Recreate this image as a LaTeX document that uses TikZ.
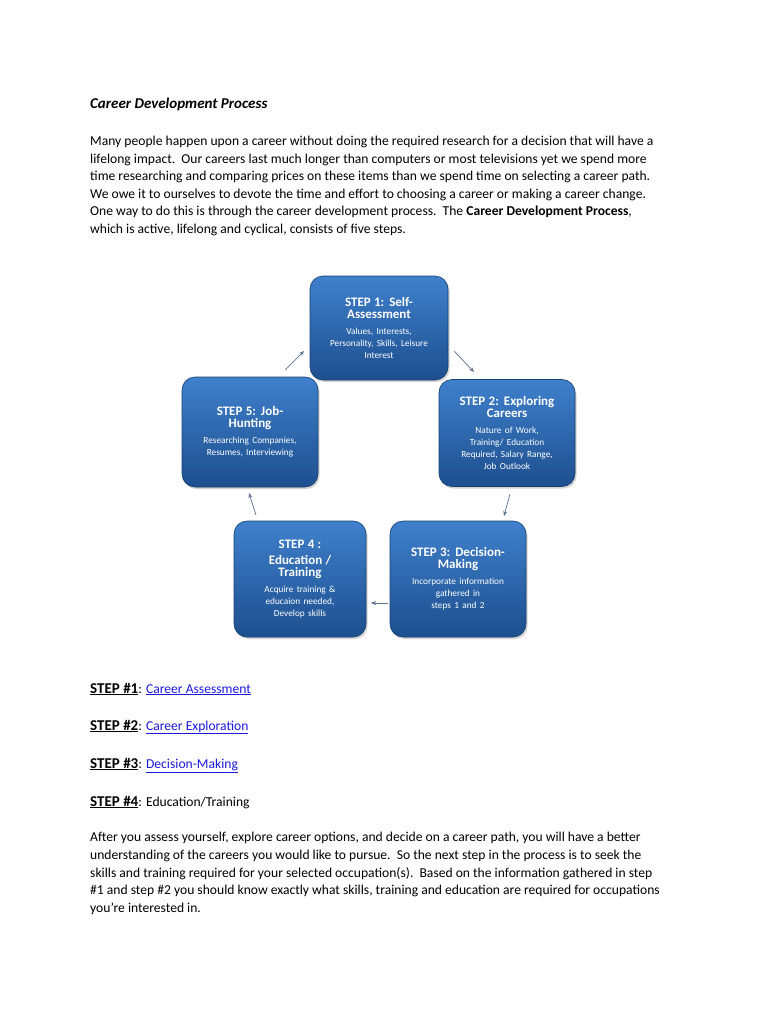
\documentclass[tikz,border=0pt]{standalone}
\usepackage{fontspec}
\setmainfont{Carlito}
\usetikzlibrary{shadows,arrows.meta}
\definecolor{boxtop}{HTML}{3F80CC}
\definecolor{boxbot}{HTML}{1D4F8E}
\definecolor{arr}{HTML}{5A7190}
\definecolor{link}{HTML}{1A1AE0}
\newcommand{\ttlf}{\fontsize{13}{16}\selectfont\bfseries}
\newcommand{\subf}{\fontsize{9.3}{12}\selectfont}
\tikzset{
 stepbox/.style={rounded corners=13pt, top color=boxtop, bottom color=boxbot, draw=boxbot!80!black, line width=0.6pt,
   drop shadow={shadow xshift=1.5pt,shadow yshift=-2pt,opacity=0.35}, text=white, align=center, inner sep=4pt},
 con/.style={-{Stealth[length=5pt,width=4pt]}, draw=arr, line width=0.7pt},
 body/.style={anchor=base west, inner sep=0pt, font=\fontsize{13.6}{16}\selectfont},
 stp/.style={anchor=base west, inner sep=0pt, font=\fontsize{13.6}{16}\selectfont}
}
\newcommand{\stepu}[1]{\underline{\fontsize{15}{18}\selectfont\bfseries #1}}
\begin{document}
\begin{tikzpicture}[x=1pt,y=-1pt]
\path[use as bounding box, fill=white] (0,0) rectangle (768,1024);
\node[body, font=\fontsize{15}{18}\selectfont\bfseries\itshape] (title) at (90,109) {Career Development Process};
\node[body] (p1) at (90,146) {Many people happen upon a career without doing the required research for a decision that will have a};
\node[body] (p2) at (90,163.5) {lifelong impact.\ \ Our careers last much longer than computers or most televisions yet we spend more};
\node[body] (p3) at (90,181) {time researching and comparing prices on these items than we spend time on selecting a career path.};
\node[body] (p4) at (90,198.5) {We owe it to ourselves to devote the time and effort to choosing a career or making a career change.};
\node[body] (p5) at (90,216) {One way to do this is through the career development process.\ \ The \textbf{Career Development Process},};
\node[body] (p6) at (90,233.5) {which is active, lifelong and cyclical, consists of five steps.};

\node[stepbox, minimum width=138pt, minimum height=104pt, text width=128pt] (s1) at (379,328)
 {{\ttlf STEP 1: Self-\\Assessment}\\[4pt]{\subf Values, Interests,\\Personality, Skills, Leisure\\Interest}};
\node[stepbox, minimum width=135pt, minimum height=107pt, text width=128pt] (s2) at (507,433)
 {{\ttlf STEP 2: Exploring\\Careers}\\[4pt]{\subf Nature of Work,\\Training/ Education\\Required, Salary Range,\\Job Outlook}};
\node[stepbox, minimum width=136pt, minimum height=116pt, text width=128pt] (s3) at (458,579)
 {{\ttlf STEP 3: Decision-\\Making}\\[4pt]{\subf Incorporate information\\gathered in\\steps 1 and 2}};
\node[stepbox, minimum width=131pt, minimum height=116pt, text width=124pt] (s4) at (300,579)
 {{\ttlf STEP 4 :\\Education /\\Training}\\[4pt]{\subf Acquire training \&\\educaion needed,\\Develop skills}};
\node[stepbox, minimum width=133pt, minimum height=110pt, text width=128pt] (s5) at (250,432)
 {{\ttlf STEP 5: Job-\\Hunting}\\[4pt]{\subf Researching Companies,\\Resumes, Interviewing}};

\coordinate (a1) at (285,370); \coordinate (b1) at (304,351);
\coordinate (a2) at (454,351); \coordinate (b2) at (474,372);
\coordinate (a3) at (510,494); \coordinate (b3) at (504,516);
\coordinate (a4) at (388,603); \coordinate (b4) at (371,603);
\coordinate (a5) at (256,515); \coordinate (b5) at (249,493);
\draw[con] (a1) -- (b1);
\draw[con] (a2) -- (b2);
\draw[con] (a3) -- (b3);
\draw[con] (a4) -- (b4);
\draw[con] (a5) -- (b5);

\node[stp] (st1) at (90,693) {\stepu{STEP \#1}: \textcolor{link}{\underline{Career Assessment}}};
\node[stp] (st2) at (90,730) {\stepu{STEP \#2}: \textcolor{link}{\underline{Career Exploration}}};
\node[stp] (st3) at (90,768) {\stepu{STEP \#3}: \textcolor{link}{\underline{Decision-Making}}};
\node[stp] (st4) at (90,806) {\stepu{STEP \#4}: Education/Training};

\node[body] (q1) at (90,841) {After you assess yourself, explore career options, and decide on a career path, you will have a better};
\node[body] (q2) at (90,859) {understanding of the careers you would like to pursue.\ \ So the next step in the process is to seek the};
\node[body] (q3) at (90,877) {skills and training required for your selected occupation(s).\ \ Based on the information gathered in step};
\node[body] (q4) at (90,894.5) {\#1 and step \#2 you should know exactly what skills, training and education are required for occupations};
\node[body] (q5) at (90,912) {you're interested in.};
\end{tikzpicture}
\end{document}
